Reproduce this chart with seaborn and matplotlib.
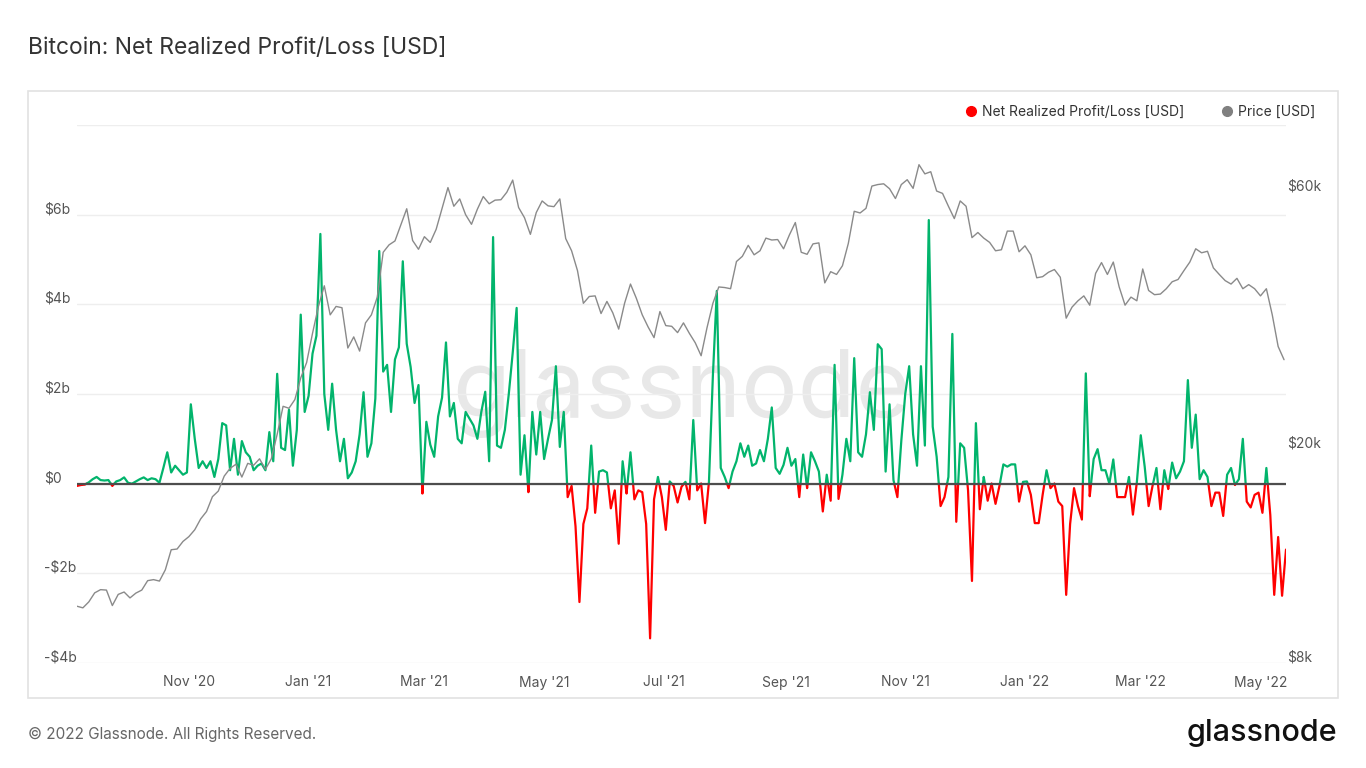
import numpy as np
import pandas as pd
import matplotlib
matplotlib.use("Agg")
import matplotlib.pyplot as plt
import matplotlib.dates as mdates
import matplotlib.transforms as mtransforms
from matplotlib.lines import Line2D
from matplotlib.patches import Rectangle
import seaborn as sns

# Net realized profit/loss, billions USD, one reading every 2 days from 2020-09-05
nrpl_start = "2020-09-05"
nrpl_bn = [
    -0.05, -0.03, -0.02, 0.03, 0.10, 0.15, 0.08, 0.07, 0.08, -0.05,
    0.05, 0.08, 0.14, 0.02, 0.00, 0.05, 0.10, 0.14, 0.08, 0.12,
    0.10, 0.02, 0.35, 0.70, 0.25, 0.40, 0.30, 0.20, 0.25, 1.77,
    1.00, 0.35, 0.50, 0.35, 0.50, 0.15, 0.55, 1.35, 1.30, 0.30,
    1.00, 0.20, 0.95, 0.70, 0.60, 0.30, 0.40, 0.45, 0.30, 1.15,
    0.50, 2.45, 0.80, 0.75, 1.65, 0.40, 1.20, 3.77, 1.60, 1.96,
    2.90, 3.30, 5.57, 2.00, 1.20, 2.23, 1.20, 0.50, 1.00, 0.12,
    0.25, 0.50, 1.10, 2.04, 0.60, 0.90, 1.90, 5.19, 2.50, 2.65,
    1.60, 2.77, 3.04, 4.96, 3.12, 2.60, 1.80, 2.20, -0.22, 1.38,
    0.87, 0.60, 1.50, 1.92, 3.15, 1.50, 1.80, 1.00, 0.90, 1.60,
    1.45, 1.30, 1.00, 1.60, 2.05, 0.50, 5.50, 0.85, 0.80, 1.20,
    2.00, 2.92, 3.92, 0.20, 1.08, -0.19, 1.60, 0.65, 1.60, 0.55,
    1.00, 1.42, 2.62, 0.82, 1.60, -0.30, -0.05, -0.95, -2.64, -0.90,
    -0.55, 0.85, -0.65, 0.27, 0.30, 0.25, -0.55, -0.15, -1.34, 0.50,
    -0.22, 0.70, -0.35, -0.15, -0.19, -0.90, -3.45, -0.35, 0.15, -0.30,
    -1.03, 0.05, -0.05, -0.42, -0.07, 0.04, -0.35, 1.42, -0.15, 0.00,
    -0.88, 0.05, 2.42, 4.30, 0.35, 0.15, -0.10, 0.27, 0.50, 0.90,
    0.60, 0.85, 0.40, 0.45, 0.75, 0.50, 1.00, 1.70, 0.35, 0.22,
    0.42, 0.80, 0.40, 0.55, -0.30, 0.65, -0.10, 0.70, 0.50, 0.27,
    -0.62, 0.20, -0.38, 2.65, -0.34, 0.20, 1.00, 0.50, 2.80, 0.70,
    0.60, 1.10, 2.04, 1.20, 3.11, 3.00, 0.27, 1.77, 0.08, -0.30,
    0.96, 2.00, 2.62, 1.10, 0.40, 2.62, 0.85, 5.88, 1.27, 0.60,
    -0.50, -0.30, 0.15, 3.34, -0.85, 0.90, 0.80, -0.15, -2.17, 1.35,
    -0.57, 0.15, -0.38, 0.00, -0.45, -0.05, 0.43, 0.38, 0.43, 0.43,
    -0.40, 0.04, 0.05, -0.25, -0.88, -0.88, -0.25, 0.30, -0.10, 0.00,
    -0.40, -0.50, -2.48, -0.90, -0.10, -0.50, -0.80, 2.46, -0.28, 0.55,
    0.77, 0.30, 0.30, 0.00, 0.54, -0.30, -0.30, -0.30, 0.15, -0.69,
    0.03, 1.08, 0.38, -0.50, -0.05, 0.35, -0.57, 0.30, -0.12, 0.47,
    0.12, 0.27, 0.50, 2.31, 0.80, 1.54, 0.10, 0.30, 0.15, -0.50,
    -0.20, -0.20, -0.72, 0.20, 0.35, -0.03, 0.10, 1.00, -0.40, -0.53,
    -0.25, -0.20, -0.65, 0.35, -0.70, -2.48, -1.19, -2.50, -1.47,
]

# BTC price, USD, one reading every 3 days from 2020-09-05
price_start = "2020-09-05"
price_usd = [
    10200, 10130, 10390, 10800, 10950, 10930, 10230, 10730, 10840,
    10570, 10790, 10930, 11380, 11430, 11360, 11920, 12990, 13030, 13460,
    13740, 14150, 14820, 15300, 16300, 16700, 17800, 18400, 18730, 17730,
    18800, 18650, 19170, 18330, 19170, 21300, 24000, 23800, 24700, 27100, 28950,
    32800, 36800, 40200, 35500, 36800, 36600, 30800, 32300, 30400, 34300,
    35500, 38300, 46400, 47900, 48700, 52200, 55900, 48800, 47000,
    49600, 48400, 51200, 56000, 61200, 56500, 58300, 54500, 52300, 55800, 58900,
    57100, 58000, 58100, 60000, 63200, 56200, 53800, 50100, 55000, 57800,
    56600, 56400, 58300, 49200, 46700, 42900, 37300, 38400, 38500, 35700,
    37600, 35800, 33400, 37300, 40500, 38100, 35500, 33700, 32200, 36000,
    33900, 33800, 32900, 34300, 32800, 31500, 29800, 33600, 37300, 40000,
    39900, 39700, 44600, 45600, 47800, 45900, 46700, 49300, 48900, 49000, 47100,
    50000, 52700, 46400, 46000, 48100, 48300, 40700, 42700, 42200, 43800,
    48200, 55300, 54900, 56000, 61600, 62000, 62200, 60900, 58400, 62000,
    63300, 61000, 67500, 64900, 65500, 60300, 59700, 56500, 53600, 57800,
    56500, 49400, 50500, 49300, 48400, 46700, 46900, 50800, 50800, 46500,
    47700, 45900, 41600, 41800, 42600, 43100, 41700, 35000, 36700, 37700, 38500,
    37000, 42400, 44400, 42200, 44500, 40000, 37000, 38300, 37700,
    43200, 39400, 38700, 38800, 39700, 40900, 41300, 42900, 44500, 47100,
    46300, 46600, 43400, 42200, 41100, 40500, 41500, 39700, 40400, 39700,
    38500, 39700, 35500, 31000, 29300,
]

left_ticks = [-4, -2, 0, 2, 4, 6, 8]
left_labels = ["-$4b", "-$2b", "$0", "$2b", "$4b", "$6b", ""]
right_ticks = [8000, 20000, 60000]
right_labels = ["$8k", "$20k", "$60k"]

green = "#02b46c"
red = "#ff0000"
grey = "#8a8a8a"

sns.set_theme(style="white")
plt.rcParams["font.family"] = ["Inter", "DejaVu Sans"]

nrpl_dates = pd.date_range(nrpl_start, periods=len(nrpl_bn), freq="2D")
price_dates = pd.date_range(price_start, periods=len(price_usd), freq="3D")
price_df = pd.DataFrame({"date": price_dates, "price": price_usd})

# split the profit/loss line into runs of one sign, cut where it crosses zero
t = ((nrpl_dates - pd.Timestamp("1970-01-01")) / pd.Timedelta(days=1)).to_numpy()
v = np.array(nrpl_bn)
rows = []
run = 0
sign = "pos" if v[0] >= 0 else "neg"
rows.append((run, sign, t[0], v[0]))
for k in range(1, len(v)):
    a, b = v[k - 1], v[k]
    if (a >= 0) != (b >= 0):
        tc = t[k - 1] + (t[k] - t[k - 1]) * a / (a - b)
        rows.append((run, sign, tc, 0.0))
        run += 1
        sign = "pos" if b >= 0 else "neg"
        rows.append((run, sign, tc, 0.0))
    rows.append((run, sign, t[k], b))
nrpl_df = pd.DataFrame(rows, columns=["run", "sign", "t", "value"])
nrpl_df["date"] = pd.to_datetime(nrpl_df["t"], unit="D")

W, H = 1366, 768
fig = plt.figure(figsize=(W / 100, H / 100), dpi=100)
fig.patch.set_facecolor("white")

# outer frame
fig.patches.append(Rectangle((28 / W, 1 - 698 / H), (1338 - 28) / W, (698 - 91) / H,
                             transform=fig.transFigure, fill=False,
                             edgecolor="#e2e2e2", linewidth=1.2))

ax = fig.add_axes([77 / W, 1 - 663 / H, (1286 - 77) / W, (663 - 125) / H])
ax.set_facecolor("none")

ax.text(0.5, 0.5, "glassnode", transform=ax.transAxes, ha="center", va="center",
        fontsize=68, color="#e8e8e8", zorder=0)

sns.lineplot(data=nrpl_df, x="date", y="value", hue="sign", units="run",
             estimator=None, sort=False, palette={"pos": green, "neg": red},
             linewidth=1.6, legend=False, ax=ax, zorder=3)
ax.axhline(0, color="#4d4d4d", linewidth=1.6, zorder=5)

ax.set_ylim(-4, 8)
ax.set_xlim(pd.Timestamp("2020-09-05"), pd.Timestamp("2022-05-14"))
ax.set_yticks(left_ticks)
ax.set_yticklabels(left_labels)
ax.grid(axis="y", color="#eeeeee", linewidth=1)
ax.grid(axis="x", visible=False)
ax.set_axisbelow(True)
ax.set_xlabel("")
ax.set_ylabel("")
for s in ax.spines.values():
    s.set_visible(False)

ax.xaxis.set_major_locator(mdates.MonthLocator(bymonth=[1, 3, 5, 7, 9, 11]))
ax.xaxis.set_major_formatter(mdates.DateFormatter("%b '%y"))
ax.tick_params(axis="x", length=0, pad=9, labelsize=10, labelcolor="#555555")
ax.tick_params(axis="y", length=0, pad=24, labelsize=10, labelcolor="#555555")
lift = mtransforms.ScaledTranslation(0, 0.07, fig.dpi_scale_trans)
for lbl in ax.get_yticklabels():
    lbl.set_horizontalalignment("left")
    lbl.set_transform(lbl.get_transform() + lift)

ax2 = ax.twinx()
sns.lineplot(data=price_df, x="date", y="price", color=grey, linewidth=1.0,
             estimator=None, ax=ax2, zorder=4)
ax2.set_yscale("log")
ax2.set_ylim(8000, 80000)
ax2.yaxis.set_minor_locator(matplotlib.ticker.NullLocator())
ax2.set_yticks(right_ticks)
ax2.set_yticklabels(right_labels)
ax2.tick_params(axis="y", length=0, pad=1, labelsize=10, labelcolor="#555555")
for lbl in ax2.get_yticklabels():
    lbl.set_transform(lbl.get_transform() + lift)
ax2.set_ylabel("")
ax2.grid(False)
for s in ax2.spines.values():
    s.set_visible(False)
ax2.set_xlim(ax.get_xlim())

fig.text(28 / W, 1 - 48 / H, "Bitcoin: Net Realized Profit/Loss [USD]",
         ha="left", va="center", fontsize=16.5, color="#333333")

handles = [Line2D([], [], marker="o", linestyle="", color=red, markersize=7),
           Line2D([], [], marker="o", linestyle="", color="#808080", markersize=7)]
fig.legend(handles, ["Net Realized Profit/Loss [USD]", "Price [USD]"],
           loc="center right", bbox_to_anchor=(1328 / W, 1 - 112 / H), ncol=2,
           frameon=False, fontsize=10, handletextpad=0.3, columnspacing=2.6,
           handlelength=1.0, labelcolor="#333333")

fig.text(28 / W, 1 - 734 / H, "\u00a9 2022 Glassnode. All Rights Reserved.",
         ha="left", va="center", fontsize=11, color="#666666")
fig.text(1337 / W, 1 - 733 / H, "glassnode", ha="right", va="center",
         fontsize=22, fontweight="medium", color="#111111")

fig.savefig("out.png", dpi=100)
